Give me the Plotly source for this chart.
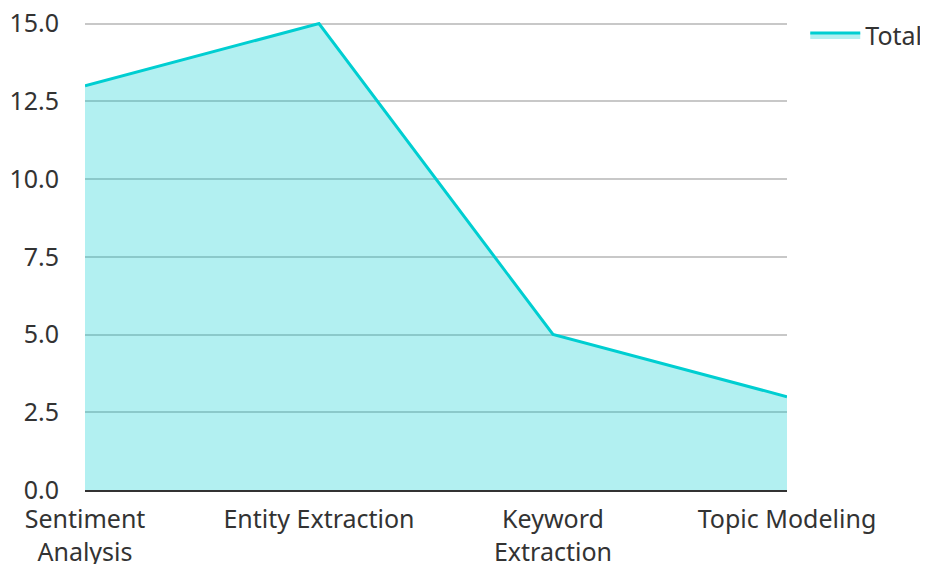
import plotly.graph_objects as go

categories = ["Sentiment<br>Analysis", "Entity Extraction", "Keyword<br>Extraction", "Topic Modeling"]
totals = [13, 15, 5, 3]
y_ticks = [0, 2.5, 5, 7.5, 10, 12.5, 15]

fig = go.Figure()
fig.add_trace(go.Scatter(
    x=categories, y=totals, name="Total", mode="lines",
    line=dict(color="#00CED1", width=3),
    fill="tozeroy", fillcolor="rgba(0,206,209,0.3)",
    cliponaxis=False,
))

font = "Noto Sans, Open Sans, sans-serif"
fs = 25
fig.update_layout(
    width=936, height=564,
    margin=dict(l=77, r=157, t=13.5, b=82, autoexpand=False),
    paper_bgcolor="white", plot_bgcolor="white",
    font=dict(family=font, size=fs, color="#333333"),
    showlegend=True,
    legend=dict(x=1.026, y=1.021, xanchor="left", yanchor="top", itemwidth=50,
                font=dict(size=fs, color="#333333"), bgcolor="rgba(0,0,0,0)"),
    xaxis=dict(range=[0, 3], showgrid=False, zeroline=False, automargin=False,
               showline=True, linecolor="#333333", linewidth=2,
               ticklabelstandoff=6, tickfont=dict(size=fs), ticks=""),
    yaxis=dict(range=[0, 15.05], tickvals=y_ticks, tickformat=".1f", automargin=False,
               showgrid=True, gridcolor="#c8c8c8", gridwidth=1.5,
               zeroline=False, showline=False, ticks="", ticklabeloverflow="allow",
               ticklabelstandoff=25, tickfont=dict(size=fs)),
)
fig.write_html("out.html")
